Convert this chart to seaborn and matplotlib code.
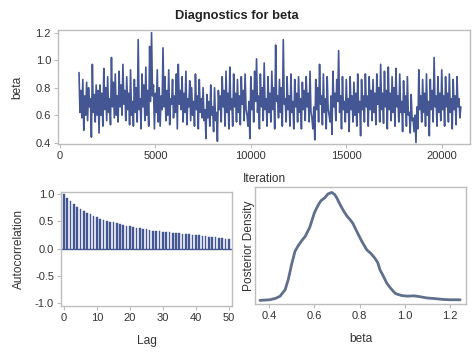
import numpy as np
import pandas as pd
import matplotlib
matplotlib.use("Agg")
import matplotlib.pyplot as plt
import seaborn as sns

# ---------------- data ----------------
trace_start = 1000
trace_step = 50
trace_beta = [
    0.91, 0.62, 0.78, 0.58, 0.86, 0.49, 0.74, 0.60, 0.84, 0.56, 0.80, 0.66, 0.72, 0.44, 0.97, 0.62, 0.75, 0.55, 0.82, 0.60,
    0.78, 0.47, 0.82, 0.60, 0.76, 0.52, 0.94, 0.64, 0.80, 0.56, 0.88, 0.62, 0.72, 0.53, 1.02, 0.66, 0.84, 0.58, 0.90, 0.60,
    0.74, 0.55, 0.92, 0.66, 0.82, 0.60, 0.97, 0.68, 0.78, 0.56, 0.88, 0.64, 0.76, 0.53, 0.93, 0.60, 0.70, 0.52, 0.86, 0.62,
    0.80, 0.55, 1.15, 0.64, 0.72, 0.50, 0.90, 0.66, 0.82, 0.56, 0.95, 0.60, 0.78, 0.52, 1.10, 0.70, 1.20, 0.74, 0.82, 0.50,
    0.76, 0.62, 0.93, 0.55, 0.80, 0.52, 0.74, 0.64, 1.09, 0.66, 0.88, 0.56, 0.78, 0.60, 0.93, 0.53, 0.72, 0.68, 0.86, 0.58,
    0.74, 0.62, 0.90, 0.50, 0.97, 0.68, 0.78, 0.64, 0.88, 0.55, 0.76, 0.62, 0.92, 0.53, 0.72, 0.66, 0.85, 0.56, 0.80, 0.60,
    0.70, 0.52, 0.90, 0.64, 0.74, 0.50, 0.86, 0.62, 0.72, 0.58, 0.80, 0.56, 0.64, 0.43, 0.75, 0.58, 0.70, 0.52, 0.82, 0.60,
    0.66, 0.48, 0.80, 0.56, 0.62, 0.41, 0.78, 0.64, 0.74, 0.55, 0.88, 0.66, 0.78, 0.52, 0.92, 0.62, 0.76, 0.50, 0.95, 0.64,
    0.72, 0.52, 0.90, 0.66, 0.76, 0.55, 0.86, 0.62, 0.74, 0.53, 0.88, 0.68, 0.78, 0.56, 0.90, 0.64, 0.60, 0.52, 0.70, 0.43,
    0.88, 0.64, 0.78, 0.55, 0.92, 0.70, 1.01, 0.62, 0.74, 0.50, 0.90, 0.66, 0.80, 0.56, 0.98, 0.64, 0.72, 0.52, 0.88, 0.62,
    0.76, 0.55, 0.92, 0.64, 0.80, 0.50, 1.11, 0.70, 0.74, 0.58, 0.86, 0.62, 0.80, 0.52, 1.15, 0.68, 0.72, 0.55, 0.88, 0.64,
    0.74, 0.52, 0.90, 0.62, 0.70, 0.50, 0.86, 0.66, 0.76, 0.55, 0.88, 0.62, 0.72, 0.50, 0.84, 0.64, 0.78, 0.56, 0.88, 0.66,
    0.76, 0.55, 0.92, 0.62, 0.58, 0.50, 0.66, 0.42, 0.86, 0.64, 0.80, 0.55, 0.97, 0.68, 0.74, 0.53, 0.90, 0.62, 0.72, 0.50,
    0.88, 0.64, 0.60, 0.55, 0.74, 0.46, 0.92, 0.66, 0.76, 0.56, 0.86, 0.70, 1.07, 0.62, 0.74, 0.50, 0.88, 0.64, 0.70, 0.55,
    0.86, 0.62, 0.72, 0.48, 0.88, 0.64, 0.74, 0.55, 0.84, 0.60, 0.76, 0.52, 0.90, 0.62, 0.70, 0.45, 0.86, 0.64, 0.74, 0.55,
    0.90, 0.66, 0.74, 0.52, 0.88, 0.64, 0.78, 0.56, 0.86, 0.62, 0.76, 0.53, 0.90, 0.68, 0.80, 0.55, 0.97, 0.64, 0.76, 0.54,
    0.92, 0.66, 0.78, 0.50, 0.95, 0.64, 0.76, 0.56, 0.88, 0.62, 0.80, 0.52, 0.94, 0.66, 0.74, 0.55, 0.90, 0.62, 0.70, 0.48,
    0.85, 0.62, 0.74, 0.52, 0.88, 0.60, 0.62, 0.47, 0.75, 0.56, 0.58, 0.48, 0.60, 0.40, 0.66, 0.50, 0.93, 0.64, 0.74, 0.55,
    0.86, 0.62, 0.76, 0.52, 0.90, 0.60, 0.70, 0.45, 0.86, 0.64, 0.78, 0.55, 1.02, 0.66, 0.74, 0.52, 0.88, 0.62, 0.76, 0.56,
    0.93, 0.64, 0.74, 0.52, 0.88, 0.66, 0.76, 0.55, 0.90, 0.62, 0.72, 0.50, 0.86, 0.64, 0.74, 0.53, 0.88, 0.66, 0.72, 0.58,
    0.66,
]

acf_lags = list(range(0, 51))
acf_values = [
    1.00, 0.93, 0.87, 0.82, 0.77, 0.73, 0.69, 0.66, 0.63, 0.60,
    0.57, 0.55, 0.53, 0.51, 0.49, 0.48, 0.46, 0.45, 0.43, 0.42,
    0.41, 0.40, 0.38, 0.37, 0.36, 0.35, 0.34, 0.33, 0.33, 0.32,
    0.31, 0.30, 0.30, 0.29, 0.28, 0.28, 0.27, 0.26, 0.26, 0.25,
    0.24, 0.24, 0.23, 0.23, 0.22, 0.21, 0.21, 0.20, 0.19, 0.18,
    0.17,
]

dens_beta = [0.36, 0.404, 0.43, 0.449, 0.471, 0.485, 0.50, 0.515, 0.53, 0.544,
             0.56, 0.58, 0.60, 0.61, 0.62, 0.63, 0.647, 0.66, 0.677, 0.69,
             0.70, 0.715, 0.73, 0.745, 0.758, 0.77, 0.795, 0.81, 0.832, 0.85,
             0.868, 0.88, 0.89, 0.905, 0.92, 0.935, 0.95, 0.96, 0.986, 1.01,
             1.04, 1.06, 1.097, 1.13, 1.17, 1.20, 1.244]
dens_value = [0.00, 0.02, 0.07, 0.14, 0.35, 0.69, 1.20, 1.63, 1.82, 1.97,
              2.12, 2.42, 2.89, 3.05, 3.19, 3.30, 3.40, 3.52, 3.57, 3.50,
              3.38, 3.15, 2.95, 2.78, 2.67, 2.55, 2.17, 1.95, 1.67, 1.55,
              1.39, 1.25, 1.01, 0.80, 0.57, 0.42, 0.29, 0.22, 0.16, 0.14,
              0.15, 0.13, 0.08, 0.06, 0.03, 0.02, 0.02]

trace_df = pd.DataFrame({
    "Iteration": trace_start + trace_step * np.arange(len(trace_beta)),
    "beta": trace_beta,
})
acf_df = pd.DataFrame({"Lag": acf_lags, "Autocorrelation": acf_values})
dens_df = pd.DataFrame({"beta": dens_beta, "Posterior Density": dens_value})

# ---------------- style ----------------
sns.set_theme(style="white")
plt.rcParams['font.family'] = ['Liberation Sans', 'DejaVu Sans']
FRAME = "#bdbdbd"
TEXT = "#333333"
NAVY = "#445694"
DENS = "#5f6f8c"

W, H = 474, 355
fig = plt.figure(figsize=(W / 100, H / 100), dpi=100)
fig.patch.set_facecolor("white")


def frac(l, t, r, b):
    return [l / W, 1 - b / H, (r - l) / W, (b - t) / H]


def style(ax):
    for s in ax.spines.values():
        s.set_color(FRAME)
        s.set_linewidth(1.0)
    ax.tick_params(axis="both", which="both", direction="out", length=3,
                   width=0.8, color=FRAME, labelcolor=TEXT, labelsize=8,
                   pad=2, bottom=True, left=True)
    ax.xaxis.label.set_color(TEXT)
    ax.yaxis.label.set_color(TEXT)
    ax.xaxis.label.set_size(8.6)
    ax.yaxis.label.set_size(8.6)


# trace plot
ax1 = fig.add_axes(frac(58, 30, 470, 144))
sns.lineplot(data=trace_df, x="Iteration", y="beta", ax=ax1, color=NAVY,
             linewidth=1.2, sort=False, estimator=None)
ax1.set_xlim(-100, 21480)
ax1.set_ylim(0.39, 1.22)
ax1.set_xticks([0, 5000, 10000, 15000, 20000])
ax1.set_xticklabels(["0", "5000", "10000", "15000", "20000"])
ax1.set_yticks([0.4, 0.6, 0.8, 1.0, 1.2])
ax1.set_yticklabels(["0.4", "0.6", "0.8", "1.0", "1.2"])
ax1.set_xlabel("Iteration", labelpad=9)
ax1.set_ylabel("beta", labelpad=9)
style(ax1)

# autocorrelation
ax2 = fig.add_axes(frac(61, 192, 232, 306))
sns.barplot(data=acf_df, x="Lag", y="Autocorrelation", ax=ax2, native_scale=True,
            width=0.5, color=NAVY, saturation=1, edgecolor=NAVY, linewidth=0.3)
ax2.axhline(0, color=NAVY, linewidth=1.0)
ax2.set_xlim(-0.9, 51)
ax2.set_ylim(-1.055, 1.037)
ax2.set_xticks([0, 10, 20, 30, 40, 50])
ax2.set_xticklabels(["0", "10", "20", "30", "40", "50"])
ax2.set_yticks([-1.0, -0.5, 0.0, 0.5, 1.0])
ax2.set_yticklabels(["-1.0", "-0.5", "0.0", "0.5", "1.0"])
ax2.set_xlabel("Lag", labelpad=9)
ax2.set_ylabel("Autocorrelation", labelpad=7)
style(ax2)

# posterior density
ax3 = fig.add_axes(frac(255, 187, 466, 304))
sns.lineplot(data=dens_df, x="beta", y="Posterior Density", ax=ax3, color=DENS,
             linewidth=2.0, sort=True, estimator=None)
ax3.set_xlim(0.338, 1.27)
ax3.set_ylim(-0.12, 3.75)
ax3.set_xticks([0.4, 0.6, 0.8, 1.0, 1.2])
ax3.set_xticklabels(["0.4", "0.6", "0.8", "1.0", "1.2"])
ax3.set_yticks([])
ax3.set_xlabel("beta", labelpad=9)
ax3.set_ylabel("Posterior Density", labelpad=0)
style(ax3)
ax3.tick_params(axis="y", left=False)

fig.text(237 / W, 1 - 16 / H, "Diagnostics for beta", ha="center", va="center",
         fontsize=9.3, fontweight="bold", color="#222222")

fig.savefig("out.png", dpi=100, facecolor="white")
